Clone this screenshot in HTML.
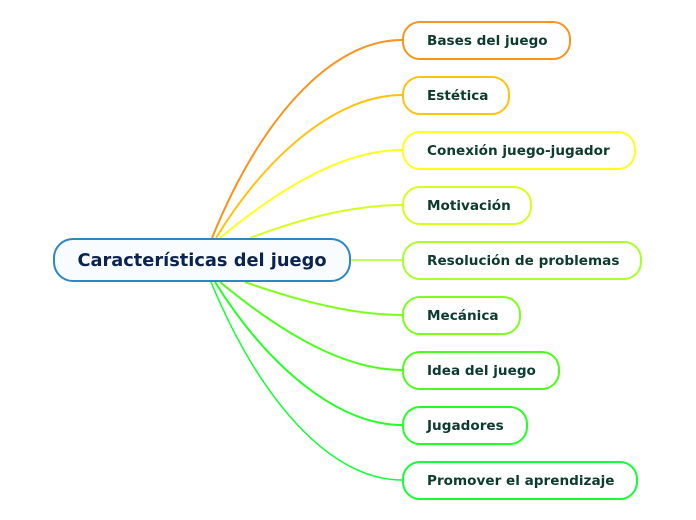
<!DOCTYPE html>
<html><head><meta charset="utf-8"><style>
body{margin:0;width:696px;height:520px;background:#fff;position:relative;overflow:hidden;font-family:"DejaVu Sans",Verdana,sans-serif;font-weight:bold}
.n{position:absolute;left:402px;height:39px;border:2px solid;border-radius:18px;background:#fff;box-sizing:border-box;color:#0d3b2e;font-size:13.6px;line-height:37px;padding-left:23px}
.c{position:absolute;left:53px;top:238px;width:298px;height:44px;border:2px solid #2e86c1;border-radius:20px;box-sizing:border-box;background:#f9fcff;color:#0a2350;font-size:17.8px;line-height:42px;text-align:center}
svg{position:absolute;left:0;top:0}
</style></head><body>
<svg width="696" height="520" fill="none">
<path d="M212 238 C260 120 330 40 402 40" stroke="#f7941d" stroke-width="2"/>
<path d="M216 238 C270 150 340 95 402 95" stroke="#ffc20e" stroke-width="2"/>
<path d="M220 238 C290 180 350 150 402 150" stroke="#ffff1a" stroke-width="2"/>
<path d="M250 238 C310 215 360 205 402 205" stroke="#d4ff1a" stroke-width="2"/>
<path d="M351 260 L402 260" stroke="#a8ff2a" stroke-width="1.5"/>
<path d="M245 282 C310 305 360 315 402 315" stroke="#7cff1a" stroke-width="2"/>
<path d="M220 282 C290 340 350 370 402 370" stroke="#4aff1a" stroke-width="2"/>
<path d="M215 282 C270 370 340 425 402 425" stroke="#22ff22" stroke-width="2"/>
<path d="M211 282 C260 400 330 480 402 480" stroke="#11ff33" stroke-width="1.5"/>
</svg>
<div class="c">Características del juego</div>
<div class="n" style="top:21px;width:169px;border-color:#f7941d">Bases del juego</div>
<div class="n" style="top:76px;width:108px;border-color:#ffc20e">Estética</div>
<div class="n" style="top:131px;width:234px;border-color:#ffff1a">Conexión juego-jugador</div>
<div class="n" style="top:186px;width:130px;border-color:#d4ff1a">Motivación</div>
<div class="n" style="top:241px;width:240px;border-color:#a8ff2a">Resolución de problemas</div>
<div class="n" style="top:296px;width:119px;border-color:#7cff1a">Mecánica</div>
<div class="n" style="top:351px;width:158px;border-color:#4aff1a">Idea del juego</div>
<div class="n" style="top:406px;width:126px;border-color:#22ff22">Jugadores</div>
<div class="n" style="top:461px;width:236px;border-color:#11ff33">Promover el aprendizaje</div>
</body></html>
